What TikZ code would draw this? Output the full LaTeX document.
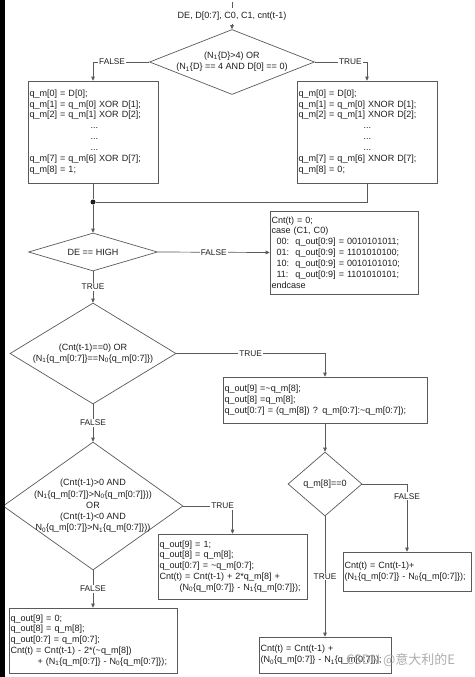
\documentclass[tikz,border=0pt]{standalone}
\usepackage{fontspec}
\setmainfont{Liberation Sans}
\newfontfamily\wmfont{Noto Sans CJK SC}
\usepackage{tikz}
\usetikzlibrary{shapes.geometric, arrows.meta}
\definecolor{tmLine}{RGB}{90, 90, 90}
\definecolor{tmText}{RGB}{30, 30, 30}
\definecolor{tmMark}{RGB}{160, 160, 160}
\newcommand{\Nsub}[1]{N\textsubscript{#1}}
\newcommand{\tld}{\textasciitilde}
\tikzset{
    base/.style={
        font=\fontsize{9.05}{10.9}\selectfont,
        text=tmText
    },
    block/.style={
        base,
        rectangle,
        draw=tmLine,
        line width=0.7pt,
        fill=white,
        align=left,
        inner xsep=1.5pt,
        inner ysep=0pt
    },
    decision/.style={
        diamond,
        draw=tmLine,
        line width=0.7pt,
        fill=white,
        inner sep=0pt
    },
    cond/.style={
        font=\fontsize{9.05}{11.3}\selectfont,
        text=tmText,
        align=center,
        inner sep=0pt
    },
    flow/.style={
        -{Triangle[length=4pt, width=3.6pt]},
        draw=tmLine,
        line width=0.7pt
    },
    link/.style={
        draw=tmLine,
        line width=0.7pt
    },
    lbl/.style={
        font=\fontsize{8.3}{9}\selectfont,
        text=tmText,
        fill=white,
        inner sep=1pt
    },
    junction/.style={
        circle,
        fill=tmText,
        inner sep=0pt,
        minimum size=5pt
    }
}

\begin{document}
\begin{tikzpicture}[x=1pt, y=-1pt]
  \fill[white] (0,0) rectangle (474,677);
  \useasboundingbox (0,0) rectangle (474,677);

  % Inputs
  \coordinate (top) at (232,2);
  \node[base] (inp) at (232,16) {DE, D[0:7], C0, C1, cnt(t-1)};
  \draw[link] (top) -- (inp.north);

  % Stage 1: minimise transitions
  \node[decision, minimum width=165pt, minimum height=65pt] (c1) at (232,62) {};
  \node[cond] (c1t) at (c1) {(\Nsub{1}\{D\}>4) OR\\(\Nsub{1}\{D\} == 4 AND D[0] == 0)};
  \draw[flow] (inp.south) -- (c1.north);

  \node[block, text width=127pt, minimum height=102pt] (qmF) at (93,132) {%
    q\_m[0] = D[0];\\
    q\_m[1] = q\_m[0] XOR D[1];\\
    q\_m[2] = q\_m[1] XOR D[2];\\
    \hspace*{61pt}...\\
    \hspace*{61pt}...\\
    \hspace*{61pt}...\\
    q\_m[7] = q\_m[6] XOR D[7];\\
    q\_m[8] = 1;};
  \node[block, text width=137pt, minimum height=102pt] (qmT) at (367,132) {%
    q\_m[0] = D[0];\\
    q\_m[1] = q\_m[0] XNOR D[1];\\
    q\_m[2] = q\_m[1] XNOR D[2];\\
    \hspace*{65pt}...\\
    \hspace*{65pt}...\\
    \hspace*{65pt}...\\
    q\_m[7] = q\_m[6] XNOR D[7];\\
    q\_m[8] = 0;};
  \draw[flow] (c1.west) -| node[lbl, pos=0.33] {FALSE} (qmF.north);
  \draw[flow] (c1.east) -| node[lbl, pos=0.34] {TRUE} (qmT.north);

  % Merge
  \node[junction] (jn) at (93,202) {};
  \draw[link] (qmF.south) -- (jn);
  \draw[link] (qmT.south) |- (jn);

  % Stage 2: data enable
  \node[decision, minimum width=129pt, minimum height=38pt] (c2) at (93,252) {};
  \node[cond] (c2t) at (c2) {DE == HIGH};
  \draw[flow] (jn) -- (c2.north);

  \node[block, text width=145pt, minimum height=83pt] (cases) at (344,252.5) {%
    Cnt(t) = 0;\\
    case (C1, C0)\\
    \hspace*{5pt}\makebox[19pt][l]{00:}q\_out[0:9] = 0010101011;\\
    \hspace*{5pt}\makebox[19pt][l]{01:}q\_out[0:9] = 1101010100;\\
    \hspace*{5pt}\makebox[19pt][l]{10:}q\_out[0:9] = 0010101010;\\
    \hspace*{5pt}\makebox[19pt][l]{11:}q\_out[0:9] = 1101010101;\\
    endcase};
  \draw[flow] (c2.east) -- node[lbl] {FALSE} (cases.west);

  % Stage 3: DC balance
  \node[decision, minimum width=166pt, minimum height=101pt] (c3) at (93,353.5) {};
  \node[cond] (c3t) at (c3) {(Cnt(t-1)==0) OR\\(\Nsub{1}\{q\_m[0:7]\}==\Nsub{0}\{q\_m[0:7]\})};
  \draw[flow] (c2.south) -- node[lbl] {TRUE} (c3.north);

  \node[block, text width=201pt, minimum height=46pt] (qout) at (325,400) {%
    q\_out[9] =\tld q\_m[8];\\
    q\_out[8] =q\_m[8];\\
    q\_out[0:7] = (q\_m[8]) ? q\_m[0:7]:\tld q\_m[0:7]);};
  \draw[flow] (c3.east) -| node[lbl, pos=0.25] {TRUE} (qout.north);

  \node[decision, minimum width=180pt, minimum height=128pt] (c4) at (93,506) {};
  \node[cond] (c4t) at (c4) {(Cnt(t-1)>0 AND\\(\Nsub{1}\{q\_m[0:7]\}>\Nsub{0}\{q\_m[0:7]\}))\\OR\\(Cnt(t-1)<0 AND\\\Nsub{0}\{q\_m[0:7]\}>\Nsub{1}\{q\_m[0:7]\}))};
  \draw[flow] (c3.south) -- node[lbl] {FALSE} (c4.north);

  \node[block, text width=146pt, minimum height=65pt] (outInv) at (232.5,566.5) {%
    q\_out[9] = 1;\\
    q\_out[8] = q\_m[8];\\
    q\_out[0:7] = \tld q\_m[0:7];\\
    Cnt(t) = Cnt(t-1) + 2*q\_m[8] +\\
    \hspace*{20pt}(\Nsub{0}\{q\_m[0:7]\} - \Nsub{1}\{q\_m[0:7]\});};
  \draw[flow] (c4.east) -| node[lbl, pos=0.4] {TRUE} (outInv.north);

  \node[block, text width=165pt, minimum height=65pt] (outDir) at (93,640.5) {%
    q\_out[9] = 0;\\
    q\_out[8] = q\_m[8];\\
    q\_out[0:7] = q\_m[0:7];\\
    Cnt(t) = Cnt(t-1) - 2*(\tld q\_m[8])\\
    \hspace*{27pt}+ (\Nsub{1}\{q\_m[0:7]\} - \Nsub{0}\{q\_m[0:7]\});};
  \draw[flow] (c4.south) -- node[lbl] {FALSE} (outDir.north);

  % Counter update
  \node[decision, minimum width=74pt, minimum height=64pt] (c5) at (325,484) {};
  \node[cond] (c5t) at (c5) {q\_m[8]==0};
  \draw[flow] (qout.south) -- (c5.north);

  \node[block, text width=125pt, minimum height=39pt] (cntF) at (407,571.5) {%
    Cnt(t) = Cnt(t-1)+\\
    (\Nsub{1}\{q\_m[0:7]\} - \Nsub{0}\{q\_m[0:7]\});};
  \draw[flow] (c5.east) -| node[lbl, pos=0.59] {FALSE} (cntF.north);

  \node[block, text width=129pt, minimum height=36pt] (cntT) at (325,655) {%
    Cnt(t) = Cnt(t-1) +\\
    (\Nsub{0}\{q\_m[0:7]\} - \Nsub{1}\{q\_m[0:7]\});};
  \draw[flow] (c5.south) -- node[lbl] {TRUE} (cntT.north);

  % Watermark and frame edge
  \node[anchor=west, inner sep=0pt, text=tmMark, opacity=0.85,
        font={\wmfont\fontsize{13}{13}\selectfont}] (wm) at (346,660) {CSDN @意大利的E};
  \fill[black] (0,0) rectangle (4.5,677);

\end{tikzpicture}
\end{document}
